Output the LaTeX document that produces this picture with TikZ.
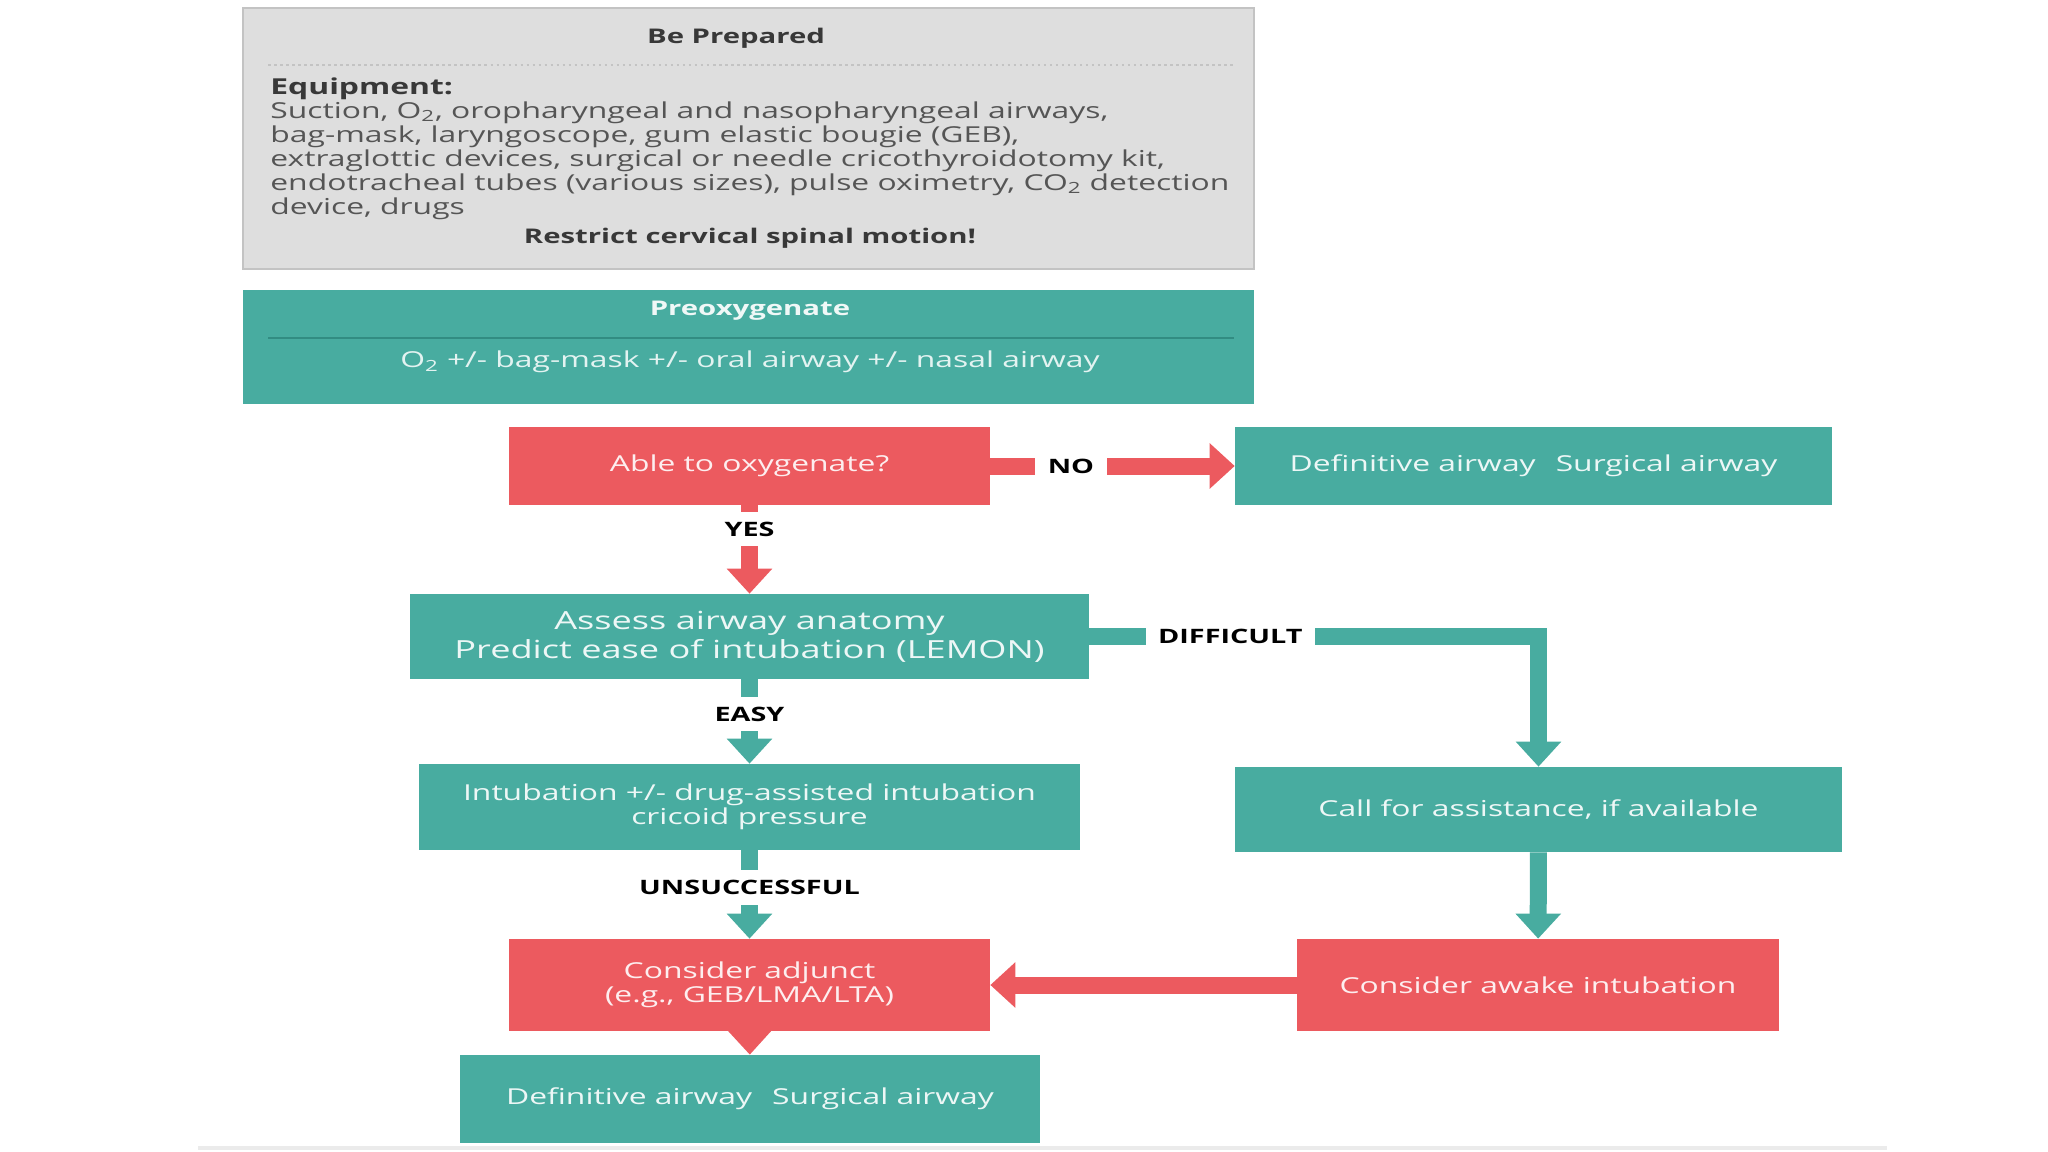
\documentclass[tikz,border=0pt]{standalone}
\usepackage{fontspec}
\setmainfont{Open Sans}[FakeStretch=1.45]
\usetikzlibrary{arrows.meta}
\definecolor{tealbox}{RGB}{72,172,160}
\definecolor{tealline}{RGB}{50,140,130}
\definecolor{coralbox}{RGB}{236,90,95}
\definecolor{graybox}{RGB}{222,222,222}
\definecolor{grayedge}{RGB}{195,195,195}
\definecolor{graytext}{RGB}{85,85,85}
\begin{document}
\begin{tikzpicture}[
	x=0.02cm, y=-0.02cm,
	font=\fontsize{12.5}{13.66}\selectfont,
	box/.style={rectangle, fill=tealbox, text=white!90!tealbox, align=center, inner sep=0pt},
	redbox/.style={box, fill=coralbox, text=white!90!coralbox},
	tarrow/.style={line width=0.34cm, tealbox, -{Triangle[width=0.88cm,length=0.5cm]}},
	rarrow/.style={tarrow, coralbox},
	title/.style={font=\fontsize{11.5}{13.66}\selectfont\bfseries},
	lbl/.style={fill=white, text=black, font=\fontsize{11.3}{13.66}\selectfont\bfseries, inner xsep=0.25cm, inner ysep=0.2cm}
	]
	\useasboundingbox (0,0) rectangle (2048,1152);
	\draw[line width=0.08cm, black!8] (198,1148) -- (1887,1148);
	
	% Be prepared
	\node[rectangle, fill=graybox, draw=grayedge, line width=0.04cm, minimum width=20.22cm, minimum height=5.22cm] (prep) at (748.5,138.5) {};
	\node[title, text=black!78] (preptitle) at (736,38) {Be Prepared};
	\draw[grayedge, line width=0.05cm, dotted] (268,65) -- (1234,65);
	\node[anchor=north west, inner sep=0pt, align=left, text=graytext] (equip) at (270,77)
		{\textbf{\color{black!78}Equipment:}\\
		Suction, O\textsubscript{2}, oropharyngeal and nasopharyngeal airways,\\
		bag-mask, laryngoscope, gum elastic bougie (GEB),\\
		extraglottic devices, surgical or needle cricothyroidotomy kit,\\
		endotracheal tubes (various sizes), pulse oximetry, CO\textsubscript{2} detection\\
		device, drugs};
	\node[title, text=black!78] (restrict) at (750,238) {Restrict cervical spinal motion!};
	
	% Preoxygenate
	\node[box, minimum width=20.22cm, minimum height=2.28cm] (preox) at (748.5,347) {};
	\node[title, text=white!92!tealbox] (preoxtitle) at (750,311) {Preoxygenate};
	\draw[tealline, line width=0.03cm] (268,338) -- (1234,338);
	\node[text=white!85!tealbox] (preoxtext) at (750,362) {O\textsubscript{2} +/- bag-mask +/- oral airway +/- nasal airway};
	
	% Decision boxes
	\node[redbox, minimum width=9.62cm, minimum height=1.56cm] (able) at (749.5,466) {Able to oxygenate?};
	\node[box, minimum width=11.94cm, minimum height=1.56cm] (deftop) at (1533.5,466) {Definitive airway\hspace{0.4cm}Surgical airway};
	\node[box, minimum width=13.58cm, minimum height=1.70cm, font=\fontsize{14.2}{16.5}\selectfont] (assess) at (749.5,636.5) {Assess airway anatomy\\Predict ease of intubation (LEMON)};
	\node[box, minimum width=13.22cm, minimum height=1.72cm] (intub) at (749.5,807) {Intubation +/- drug-assisted intubation\\cricoid pressure};
	\node[box, minimum width=12.14cm, minimum height=1.70cm] (call) at (1538.5,809.5) {Call for assistance, if available};
	\node[redbox, minimum width=9.62cm, minimum height=1.84cm] (adjunct) at (749.5,985) {Consider adjunct\\(e.g., GEB/LMA/LTA)};
	\node[redbox, minimum width=9.64cm, minimum height=1.84cm] (awake) at (1538,985) {Consider awake intubation};
	\node[box, minimum width=11.60cm, minimum height=1.76cm] (defbot) at (750,1099) {Definitive airway\hspace{0.4cm}Surgical airway};
	
	% Connections
	\draw[rarrow] (able) -- (deftop) node[pos=0.33, lbl] {NO};
	\foreach \a/\b/\t/\s/\p in {able/assess/YES/rarrow/0.27, assess/intub/EASY/tarrow/0.41, intub/adjunct/UNSUCCESSFUL/tarrow/0.42} {
		\draw[\s] (\a) -- (\b) node[pos=\p, lbl] {\t};
	}
	\draw[tarrow] (assess.east) -| (call.north) node[pos=0.157, lbl] {DIFFICULT};
	\draw[tarrow] (call) -- (awake);
	\draw[rarrow] (awake) -- (adjunct);
	\draw[rarrow] (adjunct) -- (defbot);
\end{tikzpicture}
\end{document}
